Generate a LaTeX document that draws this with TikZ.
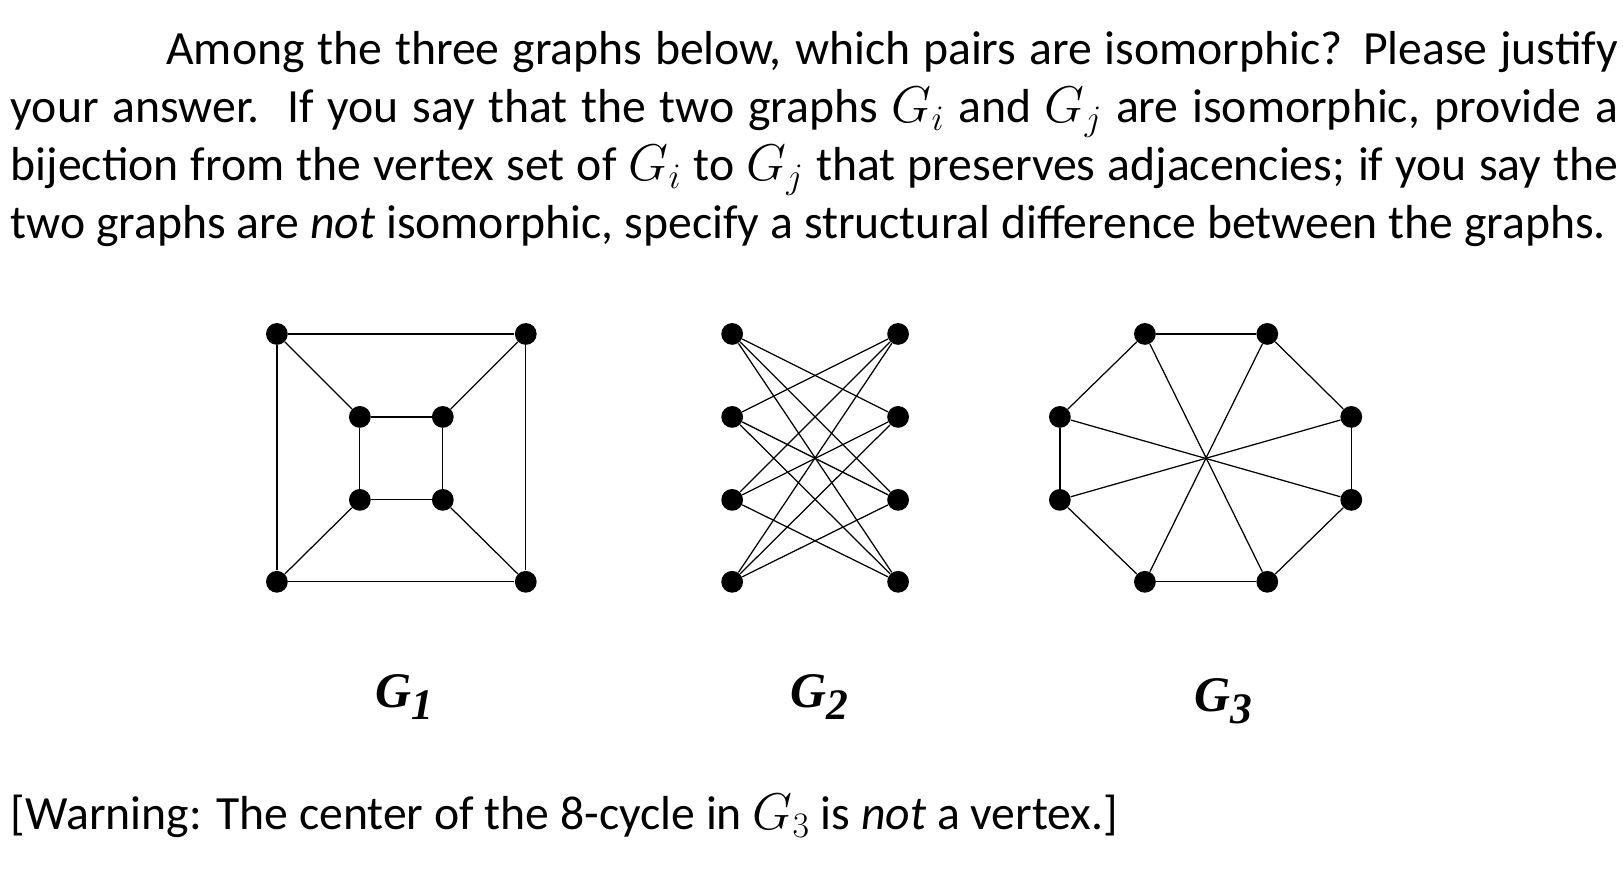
\documentclass[tikz,border=0pt]{standalone}
\usepackage{fontspec}
\setmainfont{Carlito}
\newfontfamily\labfont{Liberation Serif}
\newcommand{\glab}[1]{G\raisebox{-0.55ex}{\fontsize{21pt}{24pt}\selectfont #1}}
\begin{document}
\begin{tikzpicture}[x=0.5pt,y=-0.5pt,
  vtx/.style={circle,fill=black,inner sep=0pt,minimum size=10.5pt},
  edge/.style={line width=0.6pt},
  glabel/.style={font=\labfont\bfseries\itshape\fontsize{24pt}{28pt}\selectfont}]
\useasboundingbox (0,0) rectangle (1565,847);
\node[anchor=north west,inner sep=0pt,text width=775pt,align=justify,font=\fontsize{23pt}{28pt}\selectfont] (txt) at (10,30)
{\hyphenpenalty=10000\hspace*{75pt}Among the three graphs below, which pairs are isomorphic? Please justify\linebreak your answer.\ \ If you say that the two graphs $G_i$ and $G_j$ are isomorphic, provide a\linebreak bijection from the vertex set of $G_i$ to $G_j$ that preserves adjacencies; if you say the\linebreak two graphs are \emph{not} isomorphic, specify a structural difference between the graphs.};
% G1
\foreach \n/\x/\y in {a/267/322,b/507/322,c/507/561,d/267/561,e/347/402,f/427/402,g/427/482,h/347/482}
  \node[vtx] (\n) at (\x,\y) {};
\foreach \u/\v in {a/b,b/c,c/d,d/a,e/f,f/g,g/h,h/e,a/e,b/f,c/g,d/h}
  \draw[edge] (\u) -- (\v);
% G2
\foreach \i/\y in {1/322,2/402,3/482,4/561}{
  \node[vtx] (l\i) at (706,\y) {};
  \node[vtx] (r\i) at (866,\y) {};}
\foreach \u/\v in {1/2,1/3,1/4,2/1,2/3,2/4,3/1,3/2,3/4,4/1,4/2,4/3}
  \draw[edge] (l\u) -- (r\v);
% G3
\foreach \n/\x/\y in {1/1104/322,2/1222/322,3/1303/402,4/1303/482,5/1222/561,6/1104/561,7/1022/482,8/1022/402}
  \node[vtx] (o\n) at (\x,\y) {};
\foreach \u/\v in {1/2,2/3,3/4,4/5,5/6,6/7,7/8,8/1,1/5,2/6,3/7,4/8}
  \draw[edge] (o\u) -- (o\v);
% labels
\node[glabel] (lg1) at (390,672) {\glab{1}};
\node[glabel] (lg2) at (790,672) {\glab{2}};
\node[glabel] (lg3) at (1180,676) {\glab{3}};
\node[anchor=base west,inner sep=0pt,font=\fontsize{23pt}{28pt}\selectfont] (warn) at (10,800)
{[Warning: The center of the 8-cycle in $G_3$ is \emph{not} a vertex.]};
\end{tikzpicture}
\end{document}
